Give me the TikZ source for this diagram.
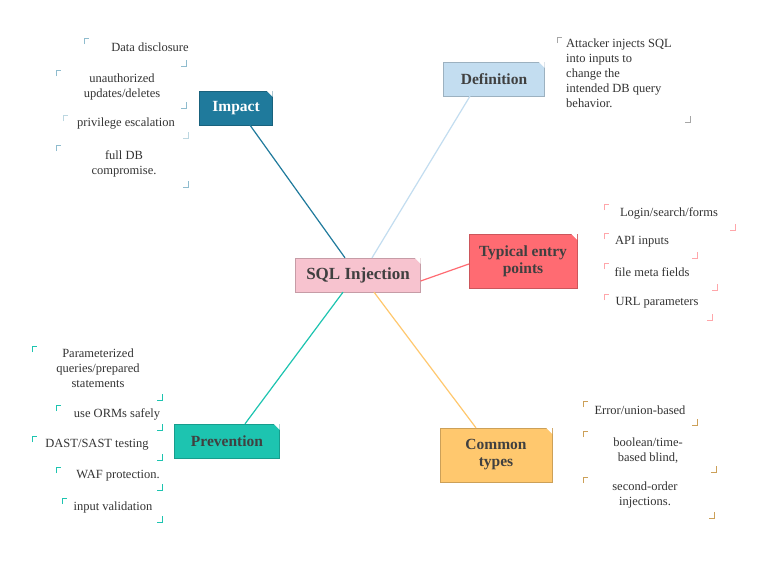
\documentclass[tikz,border=0pt]{standalone}
\usepackage{fontspec}
\setmainfont{Liberation Serif}
\begin{document}
\begin{tikzpicture}[x=1pt,y=-1pt,
  box/.style={draw=#1!80!black, line width=0.3pt, fill=#1, minimum height=34pt, align=center, inner sep=2pt, font=\fontsize{15.5}{17}\selectfont\bfseries, text=black!75},
  leaf/.style={align=center, font=\fontsize{12.5}{15}\selectfont, text=black!80, inner sep=1pt},
  br/.style={line width=0.6pt}]
\definecolor{cpink}{HTML}{F7C3CF}
\definecolor{cblue}{HTML}{C3DDF0}
\definecolor{cimp}{HTML}{1F7A9C}
\definecolor{cred}{HTML}{FF6B72}
\definecolor{cyel}{HTML}{FFC86E}
\definecolor{cteal}{HTML}{1DC4B0}
\useasboundingbox (0,0) rectangle (768,560);
\fill[white] (0,0) rectangle (768,560);
\newcommand{\brk}[3]{\draw[br,#1] (#2)++(0,6) -- ++(0,-6) -- ++(5,0); \draw[br,#1] (#3)++(0,-6) -- ++(0,6) -- ++(-5,0);}
\newcommand{\notch}[1]{\fill[white] (#1.north east) ++(-6,0) -- ++(6,0) -- ++(0,6) -- cycle;}
\node[box=cpink, minimum width=125pt, font=\fontsize{17}{18}\selectfont\bfseries] (c) at (358,275) {SQL Injection};
\node[box=cblue, minimum width=101pt] (def) at (494,79) {Definition};
\node[box=cimp, minimum width=73pt, text=white] (imp) at (236,108) {Impact};
\node[box=cred, minimum width=108pt, minimum height=54pt] (typ) at (523,261) {Typical entry\\points};
\node[box=cyel, minimum width=112pt, minimum height=54pt] (com) at (496,455) {Common\\types};
\node[box=cteal, minimum width=105pt] (pre) at (227,441) {Prevention};
\foreach \n in {c,def,imp,typ,com,pre} {\notch{\n}}
\draw[cimp, line width=1.2pt] ([xshift=14pt]imp.south) -- ([xshift=-13pt]c.north);
\draw[cblue, line width=1.2pt] ([xshift=-24pt]def.south) -- ([xshift=14pt]c.north);
\draw[cred, line width=1.2pt] ([yshift=-6pt]c.east) -- ([yshift=-3pt]typ.west);
\draw[cyel, line width=1.2pt] ([xshift=16pt]c.south) -- ([xshift=-20pt]com.north);
\draw[cteal, line width=1.2pt] ([xshift=-15pt]c.south) -- ([xshift=18pt]pre.north);
\node[leaf] (i1) at (150,47) {Data disclosure}; \brk{cimp!50}{84,38}{186,66}
\node[leaf] (i2) at (122,87) {unauthorized\\updates/deletes}; \brk{cimp!50}{56,70}{186,108}
\node[leaf] (i3) at (126,124) {privilege escalation}; \brk{cimp!30}{63,115}{188,138}
\node[leaf] (i4) at (124,164) {full DB\\compromise.}; \brk{cimp!50}{56,145}{188,187}
\node[leaf, align=left, anchor=north west] (d1) at (565,38) {Attacker injects SQL\\into inputs to\\change the\\intended DB query\\behavior.}; \brk{black!35}{557,37}{690,122}
\node[leaf] (t1) at (669,213) {Login/search/forms}; \brk{cred!60}{604,204}{735,230}
\node[leaf] (t2) at (642,242) {API inputs}; \brk{cred!60}{604,233}{697,258}
\node[leaf] (t3) at (652,272) {file meta fields}; \brk{cred!60}{604,263}{717,290}
\node[leaf] (t4) at (657,303) {URL parameters}; \brk{cred!60}{604,294}{712,320}
\node[leaf] (m1) at (640,410) {Error/union-based}; \brk{cyel!80!black}{583,401}{697,425}
\node[leaf] (m2) at (648,451) {boolean/time-\\based blind,}; \brk{cyel!80!black}{583,431}{716,472}
\node[leaf] (m3) at (645,495) {second-order\\injections.}; \brk{cyel!80!black}{583,477}{714,518}
\node[leaf] (p1) at (98,368) {Parameterized\\queries/prepared\\statements}; \brk{cteal}{32,346}{162,400}
\node[leaf] (p2) at (117,414) {use ORMs safely}; \brk{cteal}{56,405}{162,430}
\node[leaf] (p3) at (97,445) {DAST/SAST testing}; \brk{cteal}{32,436}{162,460}
\node[leaf] (p4) at (118,476) {WAF protection.}; \brk{cteal}{56,467}{162,490}
\node[leaf] (p5) at (113,507) {input validation}; \brk{cteal}{62,498}{162,522}
\end{tikzpicture}
\end{document}
